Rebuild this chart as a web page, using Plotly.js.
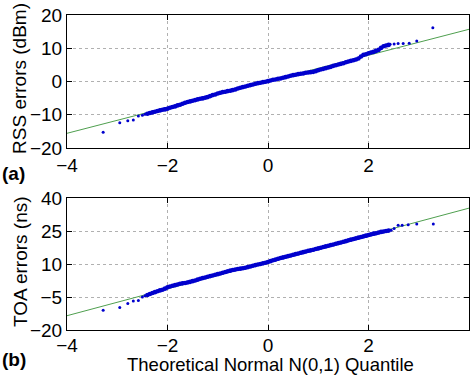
<!DOCTYPE html>
<html>
<head>
<meta charset="utf-8">
<script src="https://cdn.plot.ly/plotly-3.0.1.min.js"></script>
<style>html,body{margin:0;padding:0;background:#fff;}#chart{width:474px;height:375px;}</style>
</head>
<body>
<div id="chart"></div>
<script>
// (a) RSS errors: theoretical quantiles and sorted samples
var rssQ = [-3.28,-2.95,-2.79,-2.68,-2.58,-2.50,
-2.45,-2.40,-2.35,-2.30,-2.25,-2.20,-2.15,-2.10,-2.05,-2.00,-1.95,-1.90,-1.85,-1.80,-1.75,-1.70,-1.65,-1.60,-1.55,-1.50,-1.45,-1.40,-1.35,-1.30,-1.25,-1.20,-1.15,-1.10,-1.05,-1.00,-0.95,-0.90,-0.85,-0.80,-0.75,-0.70,-0.65,-0.60,-0.55,-0.50,-0.45,-0.40,-0.35,-0.30,-0.25,-0.20,-0.15,-0.10,-0.05,0.00,0.05,0.10,0.15,0.20,0.25,0.30,0.35,0.40,0.45,0.50,0.55,0.60,0.65,0.70,0.75,0.80,0.85,0.90,0.95,1.00,1.05,1.10,1.15,1.20,1.25,1.30,1.35,1.40,1.45,1.50,1.55,1.60,1.65,1.70,1.75,1.80,1.85,1.90,1.95,2.00,2.05,2.10,2.15,2.20,2.25,2.30,2.35,2.40,
2.43,2.51,2.59,2.69,2.81,2.96,3.28];
var rssErr = [-15.3,-12.4,-11.8,-11.6,-10.4,-10.2,
-9.9,-9.7,-9.5,-9.3,-9.1,-8.9,-8.7,-8.5,-8.4,-8.2,-7.9,-7.7,-7.5,-7.2,-7.0,-6.7,-6.4,-6.2,-6.0,-5.8,-5.6,-5.4,-5.2,-5.1,-4.9,-4.7,-4.4,-4.1,-3.9,-3.6,-3.4,-3.2,-3.1,-2.9,-2.8,-2.6,-2.4,-2.1,-1.9,-1.7,-1.5,-1.3,-1.1,-0.9,-0.7,-0.5,-0.4,-0.2,-0.1,0.1,0.3,0.5,0.6,0.8,0.9,1.1,1.3,1.5,1.7,1.9,2.0,2.2,2.3,2.4,2.6,2.7,2.8,2.9,3.1,3.4,3.6,3.8,4.0,4.2,4.4,4.7,4.9,5.1,5.3,5.5,5.8,6.0,6.2,6.4,6.6,6.9,7.5,8.0,8.2,8.5,8.7,8.9,9.2,9.5,10.1,10.6,10.8,11.0,
11.2,11.3,11.4,11.4,11.5,12.2,16.2];

// (b) TOA errors
var toaQ = [-3.28,-2.95,-2.79,-2.68,-2.58,-2.50,
-2.45,-2.40,-2.35,-2.30,-2.25,-2.20,-2.15,-2.10,-2.05,-2.00,-1.95,-1.90,-1.85,-1.80,-1.75,-1.70,-1.65,-1.60,-1.55,-1.50,-1.45,-1.40,-1.35,-1.30,-1.25,-1.20,-1.15,-1.10,-1.05,-1.00,-0.95,-0.90,-0.85,-0.80,-0.75,-0.70,-0.65,-0.60,-0.55,-0.50,-0.45,-0.40,-0.35,-0.30,-0.25,-0.20,-0.15,-0.10,-0.05,0.00,0.05,0.10,0.15,0.20,0.25,0.30,0.35,0.40,0.45,0.50,0.55,0.60,0.65,0.70,0.75,0.80,0.85,0.90,0.95,1.00,1.05,1.10,1.15,1.20,1.25,1.30,1.35,1.40,1.45,1.50,1.55,1.60,1.65,1.70,1.75,1.80,1.85,1.90,1.95,2.00,2.05,2.10,2.15,2.20,2.25,2.30,2.35,2.40,2.45,
2.51,2.59,2.67,2.79,2.96,3.29];
var toaErr = [-11.0,-9.8,-7.9,-6.8,-6.6,-5.0,
-4.4,-4.1,-3.6,-3.2,-2.8,-2.4,-2.0,-1.7,-1.2,-0.6,-0.2,0.1,0.4,0.7,1.0,1.2,1.4,1.6,1.9,2.2,2.5,2.9,3.3,3.6,3.9,4.2,4.5,4.8,5.1,5.4,5.7,6.0,6.4,6.7,7.0,7.3,7.5,7.7,7.9,8.1,8.3,8.6,8.9,9.2,9.5,9.8,10.0,10.3,10.6,10.9,11.3,11.7,12.0,12.4,12.7,13.0,13.3,13.6,13.9,14.2,14.5,14.8,15.1,15.4,15.7,16.0,16.2,16.5,16.8,17.1,17.4,17.7,18.0,18.3,18.6,18.9,19.2,19.5,19.8,20.1,20.4,20.8,21.1,21.4,21.7,22.0,22.3,22.6,22.9,23.2,23.5,23.8,24.0,24.3,24.6,24.8,25.0,25.2,25.4,
26.1,27.6,27.6,27.9,28.2,28.2];

// reference (fitted) lines, end points
var fitX = [-4, 4];
var rssFit = [-15.6, 15.7];
var toaFit = [-13.5, 35.4];

var xTicks = [-4, -2, 0, 2, 4];
var rssTicks = [-20, -10, 0, 10, 20];
var toaTicks = [-20, -5, 10, 25, 40];

var FONT = 'Liberation Sans, Arial, Helvetica, sans-serif';
var ln = {color: '#4f9f4f', width: 1};
var BLUE = 'rgb(0,0,205)';

// split each sample into its dense body and its sparse tails (drawn smaller)
function part(q, v, body) {
  var xs = [], ys = [];
  for (var i = 0; i < q.length; i++) {
    var inBody = Math.abs(q[i]) <= 2.42;
    if (inBody === body) { xs.push(q[i]); ys.push(v[i]); }
  }
  return {x: xs, y: ys};
}
function pts(q, v, body, xa, ya) {
  var p = part(q, v, body);
  return {x: p.x, y: p.y, mode: body ? 'lines+markers' : 'markers',
    line: {color: BLUE, width: 3},
    marker: {color: BLUE, size: body ? 4.6 : 3, line: {width: 0}},
    xaxis: xa, yaxis: ya};
}

var traces = [
  {x: fitX, y: rssFit, mode: 'lines', line: ln, xaxis: 'x', yaxis: 'y', hoverinfo: 'skip'},
  pts(rssQ, rssErr, true, 'x', 'y'),
  pts(rssQ, rssErr, false, 'x', 'y'),
  {x: fitX, y: toaFit, mode: 'lines', line: ln, xaxis: 'x2', yaxis: 'y2', hoverinfo: 'skip'},
  pts(toaQ, toaErr, true, 'x2', 'y2'),
  pts(toaQ, toaErr, false, 'x2', 'y2')
];

function ax(extra) {
  var a = {
    showline: true, mirror: 'ticks', linecolor: '#000', linewidth: 1,
    ticks: 'inside', ticklen: 5, tickcolor: '#000', tickwidth: 1,
    showgrid: true, gridcolor: '#b0b0b0', gridwidth: 1, griddash: 'dot',
    zeroline: false, tickfont: {family: FONT, size: 19, color: '#000'},
    fixedrange: true
  };
  for (var k in extra) a[k] = extra[k];
  return a;
}

var layout = {
  width: 474, height: 375,
  margin: {l: 67, r: 5, t: 15, b: 45},
  paper_bgcolor: '#fff', plot_bgcolor: '#fff',
  showlegend: false,
  font: {family: FONT, color: '#000'},
  xaxis: ax({domain: [0, 1], anchor: 'y', range: [-4, 4], tickmode: 'array', tickvals: xTicks}),
  yaxis: ax({domain: [0.578, 1], anchor: 'x', range: [-20, 20], tickmode: 'array', tickvals: rssTicks}),
  xaxis2: ax({domain: [0, 1], anchor: 'y2', range: [-4, 4], tickmode: 'array', tickvals: xTicks, ticklabelstandoff: -2}),
  yaxis2: ax({domain: [0, 0.419], anchor: 'x2', range: [-20, 40], tickmode: 'array', tickvals: toaTicks}),
  annotations: [
    {text: 'RSS errors (dBm)', xref: 'paper', yref: 'paper', x: -0.117, y: 0.80, textangle: -90,
     showarrow: false, xanchor: 'center', yanchor: 'middle', font: {family: FONT, size: 19, color: '#000'}},
    {text: 'TOA errors (ns)', xref: 'paper', yref: 'paper', x: -0.117, y: 0.219, textangle: -90,
     showarrow: false, xanchor: 'center', yanchor: 'middle', font: {family: FONT, size: 19, color: '#000'}},
    {text: '<b>(a)</b>', xref: 'paper', yref: 'paper', x: -0.1667, y: 0.498, showarrow: false,
     xanchor: 'left', yanchor: 'middle', font: {family: FONT, size: 19, color: '#000'}},
    {text: '<b>(b)</b>', xref: 'paper', yref: 'paper', x: -0.1667, y: -0.095, showarrow: false,
     xanchor: 'left', yanchor: 'middle', font: {family: FONT, size: 19, color: '#000'}},
    {text: 'Theoretical Normal N(0,1) Quantile', xref: 'paper', yref: 'paper', x: 0.505, y: -0.1445,
     showarrow: false, xanchor: 'center', yanchor: 'bottom', borderpad: 0, font: {family: FONT, size: 18.5, color: '#000'}}
  ]
};

Plotly.newPlot('chart', traces, layout, {staticPlot: true, displayModeBar: false});
</script>
</body>
</html>
